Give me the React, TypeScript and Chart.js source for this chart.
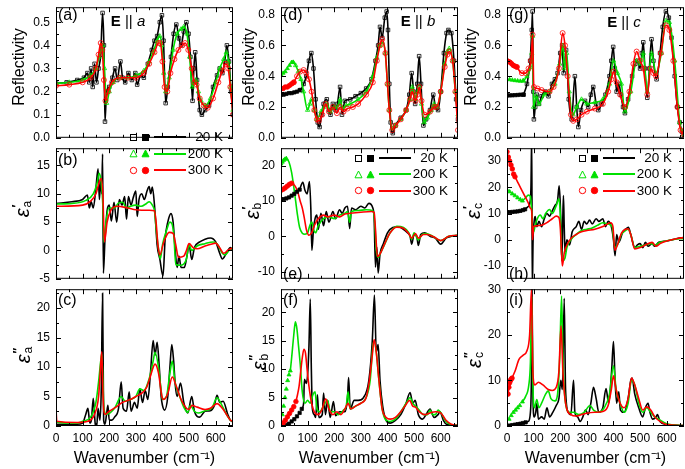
import { useEffect, useRef } from 'react';
import Chart from 'chart.js/auto';

type Pt = [number, number];

const X_MAX = 665;
const X_TICKS = [0, 100, 200, 300, 400, 500, 600];
const LEGEND_LABELS = ['20 K', '200 K', '300 K'];

// (a) reflectivity, E || a
const A_20K: Pt[] = [[0,0.235],[40,0.24],[80,0.25],[105,0.26],[118,0.28],[125,0.24],[132,0.3],[138,0.22],[145,0.32],[152,0.24],[160,0.3],[168,0.36],[175,0.54],[180,0.4],[184,0.07],[190,0.2],[200,0.22],[212,0.26],[222,0.3],[230,0.25],[242,0.33],[250,0.26],[260,0.24],[272,0.28],[285,0.25],[298,0.28],[305,0.23],[318,0.27],[330,0.26],[345,0.32],[360,0.38],[370,0.42],[380,0.44],[390,0.5],[398,0.53],[404,0.42],[412,0.15],[420,0.22],[432,0.35],[442,0.45],[452,0.49],[462,0.43],[470,0.4],[480,0.46],[490,0.5],[498,0.45],[505,0.35],[513,0.16],[518,0.3],[523,0.37],[530,0.25],[540,0.12],[548,0.1],[560,0.12],[575,0.14],[590,0.22],[605,0.27],[615,0.3],[625,0.28],[634,0.33],[642,0.4],[650,0.33],[658,0.2],[665,0.1]];
const A_200K: Pt[] = [[0,0.235],[50,0.24],[100,0.25],[130,0.27],[150,0.3],[162,0.35],[170,0.38],[176,0.4],[182,0.3],[190,0.15],[200,0.2],[215,0.24],[240,0.26],[270,0.26],[300,0.27],[330,0.29],[350,0.33],[365,0.37],[380,0.42],[390,0.44],[397,0.4],[405,0.28],[412,0.2],[425,0.26],[440,0.38],[455,0.45],[470,0.47],[480,0.48],[492,0.45],[502,0.35],[512,0.22],[520,0.24],[526,0.25],[535,0.2],[545,0.16],[560,0.14],[580,0.17],[600,0.24],[615,0.3],[630,0.34],[640,0.37],[648,0.33],[656,0.22],[665,0.12]];
const A_300K: Pt[] = [[0,0.225],[50,0.23],[100,0.24],[130,0.26],[150,0.3],[160,0.36],[168,0.41],[174,0.38],[180,0.25],[186,0.16],[195,0.2],[210,0.24],[240,0.26],[270,0.26],[300,0.26],[330,0.28],[350,0.32],[370,0.37],[385,0.41],[392,0.41],[400,0.33],[408,0.22],[418,0.2],[430,0.28],[445,0.34],[460,0.38],[475,0.4],[485,0.41],[497,0.38],[510,0.3],[520,0.24],[528,0.23],[540,0.17],[555,0.14],[570,0.13],[590,0.17],[610,0.24],[625,0.29],[638,0.32],[647,0.3],[655,0.22],[665,0.1]];

// (b) eps' E || a
const B_20K: Pt[] = [[0,8.3],[60,8.6],[100,9],[118,9.8],[125,7.5],[132,8.6],[140,7.5],[150,11],[158,14.4],[163,9],[168,12.5],[172,10],[175,17],[178,-4],[184,2],[192,7],[200,8],[208,5.2],[218,8.5],[228,5],[238,9],[248,8],[258,9.5],[265,5.5],[272,9.5],[282,8],[290,9.3],[300,10.5],[305,6],[312,9],[322,10],[332,9],[342,10.5],[350,11.3],[356,10],[362,11.2],[370,8],[380,1],[390,-1.5],[402,-4.5],[410,2],[420,5],[432,6.5],[440,5],[448,0],[455,-3],[462,-1],[470,-3],[482,-3],[492,-1],[500,1],[510,-1.6],[520,0.5],[540,1.5],[560,2],[580,2.2],[600,1.5],[615,-0.5],[625,-1.5],[640,-0.5],[655,0.5],[665,0]];
const B_200K: Pt[] = [[0,8.2],[60,8.3],[110,8.8],[140,10],[155,12],[162,13.6],[170,12],[176,8],[180,1.5],[188,5],[198,7.5],[220,7.5],[235,8.4],[250,8.5],[265,7.5],[280,7.8],[300,8],[320,7.8],[340,8.3],[350,8.6],[362,8],[370,7],[378,3],[386,0],[392,-1.5],[400,1],[415,3.5],[428,5],[435,4.8],[443,2.5],[450,-2.5],[470,-2.6],[490,-1.5],[500,1],[510,0],[530,0.8],[560,1.2],[590,1.5],[605,1.2],[625,-0.5],[635,-0.8],[650,0],[665,0.5]];
const B_300K: Pt[] = [[0,7.8],[100,8],[130,8.7],[150,10],[162,12],[170,12.7],[176,10],[182,1.5],[192,5],[205,7],[230,7.8],[270,7.5],[300,7.2],[350,7.1],[370,7],[376,5],[383,1],[390,-0.8],[405,1.5],[425,3.2],[440,3],[450,1],[460,-1.2],[480,-1],[490,0],[500,1.2],[515,0.5],[530,0.3],[560,0.8],[590,1.2],[600,1.3],[615,0.5],[630,-0.5],[645,0],[665,0.5]];

// (c) eps'' E || a
const C_20K: Pt[] = [[0,0.3],[80,0.3],[100,0.5],[112,2],[120,3],[127,0.5],[133,1],[140,4.7],[148,0.2],[153,0],[158,3],[165,1],[170,6],[175,22.5],[179,1],[184,0.3],[190,2],[195,3.5],[200,1],[210,1],[220,1.5],[235,3],[245,7.5],[252,3],[265,2.5],[275,5.8],[282,2.5],[295,4],[305,3],[315,6.3],[325,4],[335,6],[345,4.5],[355,9],[365,14.5],[372,12],[380,14.2],[388,10],[395,5],[400,3.5],[408,2.7],[420,5],[428,10],[435,13.8],[442,11],[448,7],[455,5],[468,7.3],[480,4],[495,2.2],[510,5],[520,2.5],[540,1.5],[560,2.5],[580,2.6],[595,3.5],[605,5.2],[615,4],[628,4.2],[645,2],[655,1],[665,0.7]];
const C_200K: Pt[] = [[0,0.7],[40,0.5],[80,0.5],[100,0.8],[130,1.5],[150,4],[160,7.5],[168,11],[172,12.3],[176,8],[180,3],[190,2],[220,3],[245,5],[260,4.2],[280,4.5],[300,5],[315,6.3],[330,6],[350,8],[365,11],[372,12.5],[385,10],[395,6],[400,4.5],[415,5],[428,9],[437,11],[447,7.5],[465,5],[480,3.2],[495,2.3],[505,3.5],[520,2.5],[535,2.2],[560,2.6],[585,3],[605,4.8],[620,3.8],[640,2],[655,1],[665,0.8]];
const C_300K: Pt[] = [[0,3],[3,0.8],[80,0.6],[120,0.8],[145,2],[160,5],[166,9],[172,12.6],[176,6],[180,2.5],[185,2],[200,2.5],[225,3.2],[250,4],[280,4.5],[300,5],[320,5.5],[340,6.5],[355,8.5],[372,10.5],[385,9],[398,5],[405,4.5],[420,5.5],[437,8.3],[450,7],[470,4.5],[490,3],[500,2.8],[510,3.5],[530,3.2],[560,2.8],[580,3],[605,3.8],[625,3],[640,2],[655,1],[665,0.8]];

// (d) reflectivity, E || b  (LF = low-frequency filled symbols)
const D_20K_LF: Pt[] = [[0,0.28],[10,0.28],[20,0.285],[30,0.29],[40,0.29],[50,0.295],[60,0.3],[70,0.31]];
const D_20K: Pt[] = [[75,0.31],[85,0.35],[95,0.4],[105,0.5],[114,0.55],[122,0.45],[130,0.25],[138,0.1],[145,0.07],[152,0.15],[160,0.22],[172,0.25],[180,0.18],[186,0.15],[195,0.22],[205,0.18],[212,0.22],[222,0.33],[229,0.15],[240,0.24],[260,0.25],[280,0.27],[300,0.29],[320,0.32],[340,0.38],[355,0.5],[365,0.6],[372,0.72],[380,0.65],[390,0.78],[397,0.82],[402,0.7],[407,0.35],[412,0.1],[420,0.03],[430,0.08],[450,0.13],[470,0.18],[482,0.28],[491,0.42],[498,0.3],[504,0.22],[512,0.35],[519,0.53],[526,0.35],[535,0.08],[545,0.12],[560,0.18],[572,0.28],[580,0.2],[590,0.18],[600,0.3],[612,0.55],[622,0.68],[629,0.7],[640,0.68],[650,0.5],[658,0.25],[665,0.12]];
const D_200K_LF: Pt[] = [[0,0.41],[8,0.42],[16,0.43],[24,0.45],[32,0.47],[40,0.49],[46,0.49]];
const D_200K: Pt[] = [[46,0.49],[55,0.47],[65,0.43],[75,0.38],[85,0.3],[100,0.18],[108,0.22],[115,0.25],[125,0.18],[135,0.12],[150,0.17],[162,0.2],[172,0.22],[185,0.17],[200,0.2],[212,0.2],[222,0.25],[232,0.19],[245,0.21],[260,0.22],[290,0.25],[320,0.3],[345,0.4],[360,0.52],[372,0.6],[380,0.62],[392,0.55],[400,0.35],[407,0.18],[418,0.06],[430,0.08],[450,0.12],[470,0.18],[485,0.25],[493,0.33],[505,0.25],[513,0.3],[520,0.33],[528,0.22],[538,0.1],[550,0.13],[565,0.18],[575,0.22],[585,0.2],[600,0.3],[615,0.48],[625,0.56],[632,0.58],[645,0.5],[655,0.3],[665,0.15]];
const D_300K_LF: Pt[] = [[0,0.32],[8,0.32],[16,0.33],[24,0.33],[32,0.34],[40,0.35],[48,0.36]];
const D_300K: Pt[] = [[48,0.36],[60,0.4],[72,0.43],[85,0.44],[95,0.42],[105,0.38],[115,0.3],[125,0.18],[135,0.12],[142,0.11],[155,0.15],[168,0.22],[180,0.17],[195,0.2],[210,0.16],[222,0.2],[235,0.17],[250,0.19],[270,0.2],[290,0.22],[320,0.28],[345,0.36],[360,0.5],[372,0.6],[380,0.64],[392,0.55],[400,0.35],[407,0.18],[418,0.05],[430,0.08],[450,0.12],[470,0.18],[485,0.25],[493,0.3],[505,0.24],[513,0.28],[520,0.33],[528,0.24],[540,0.15],[560,0.17],[575,0.2],[585,0.2],[600,0.3],[615,0.46],[625,0.54],[632,0.56],[645,0.5],[655,0.3],[665,0.05]];

// (e) eps' E || b
const E_20K_LF: Pt[] = [[0,10.4],[10,10.5],[20,10.7],[30,11],[40,11.5],[50,12],[60,12.6],[70,13.2]];
const E_20K: Pt[] = [[70,13.2],[82,15.3],[90,13],[98,12],[107,15.5],[112,8],[116,-4],[122,2],[128,5],[135,6],[140,2],[150,6.5],[160,3],[170,7],[180,4],[195,7],[205,5],[220,7.5],[230,6.5],[240,8],[250,8.5],[258,2.2],[265,8],[280,7.5],[300,8.5],[315,8],[330,9.3],[345,8],[350,5],[355,-8.7],[360,-3],[365,-10.4],[372,-5],[385,-2],[400,1],[420,2.5],[440,2.7],[460,2],[475,1],[485,0],[491,-2.2],[500,0.5],[510,0],[516,-2.6],[525,0.5],[540,1],[560,0],[580,-0.5],[600,-2.2],[620,-0.5],[640,0],[665,0.3]];
const E_200K_LF: Pt[] = [[0,20.5],[5,21],[10,21.5],[15,21.8],[20,22]];
const E_200K: Pt[] = [[20,22],[30,21],[40,18],[48,14],[55,10],[62,6],[70,2.5],[80,0.9],[90,0.6],[100,1],[108,3],[116,4],[122,2],[130,1],[140,3],[160,5],[180,5.5],[200,5],[220,6],[240,6.5],[250,7],[258,4],[265,7],[290,7.3],[320,7.5],[345,7.2],[352,4],[358,-4],[365,-6],[372,-5],[385,-3],[410,1],[435,2.8],[460,2.5],[480,1],[491,-0.8],[500,1],[516,-1],[530,0.5],[545,0.8],[570,0],[600,-1.2],[630,0],[665,0.3]];
const E_300K_LF: Pt[] = [[0,13],[8,13.3],[16,13.7],[24,14.2],[32,14.7],[40,15]];
const E_300K: Pt[] = [[40,15],[50,14.5],[58,13.5],[65,12],[72,10],[80,8],[88,5],[95,2],[105,0.3],[115,1],[125,3],[140,5],[160,6],[175,5.5],[200,6],[220,5.5],[240,6.3],[260,6.5],[300,6.8],[340,7],[350,6.7],[355,2],[362,-5.7],[372,-5],[390,-2],[410,1],[435,2.6],[460,2.3],[480,0.8],[491,-0.5],[505,0.8],[516,-0.5],[535,0.5],[550,0.5],[575,-0.2],[600,-1.2],[630,0],[665,0.3]];

// (f) eps'' E || b
const F_20K_LF: Pt[] = [[0,0],[10,0.05],[20,0.2],[30,0.4],[40,0.8],[50,1.2],[60,1.7],[70,2.3],[78,3]];
const F_20K: Pt[] = [[78,3],[85,4],[88,8.2],[95,7.5],[100,9],[105,14],[110,22.3],[114,10],[118,3],[125,2],[130,1.5],[137,5.5],[142,1.5],[155,2],[160,5.8],[167,2],[175,4.5],[185,1.5],[197,4.3],[205,1.8],[220,2.5],[240,2.5],[250,5],[254,8.5],[260,3],[275,4.5],[290,4.5],[310,5],[330,8],[343,15],[351,23],[358,13],[365,14.3],[372,8],[382,3.5],[395,1],[410,0.5],[430,1],[450,2],[470,4],[485,5.9],[495,4],[504,4.5],[516,2],[532,1.2],[545,2],[560,3],[575,1.5],[590,2],[597,2.5],[610,1],[622,0.3],[665,0.1]];
const F_200K_LF: Pt[] = [[0,0],[5,2],[10,3.5],[15,5],[20,6.5],[25,8],[30,9],[35,9.7]];
const F_200K: Pt[] = [[35,9.7],[40,12],[48,16],[54,18.3],[60,17],[66,14],[72,11],[80,6],[90,4],[100,4.5],[110,4],[120,5.5],[128,6],[135,3],[145,2.5],[165,4],[175,4.5],[185,2.5],[200,2.5],[215,2],[235,2.8],[245,3.5],[252,6],[260,3],[280,3.5],[300,4],[320,5],[335,8],[345,14],[350,15],[358,13],[368,8],[380,3],[395,1],[410,0.8],[430,1.2],[450,2.5],[470,4],[485,5],[495,4],[505,3.5],[516,3],[535,2],[550,2],[560,2.8],[570,2],[580,2],[590,2.8],[605,2],[620,0.8],[640,0.2],[665,0.1]];
const F_300K_LF: Pt[] = [[0,0],[8,0.5],[16,1],[24,1.6],[32,2.2],[40,2.8],[48,3.4],[56,4.3]];
const F_300K: Pt[] = [[56,4.3],[62,5.5],[68,7],[75,10],[80,12],[86,13.5],[92,12.8],[98,10],[105,7],[115,4],[125,2.5],[140,2],[155,3],[168,4.8],[180,3],[195,2],[210,2.5],[225,2],[240,3],[252,4],[262,3],[280,3.5],[300,4],[320,5],[332,8],[342,12],[350,15.2],[358,13],[368,8],[380,3],[395,1.5],[410,1.2],[430,1.5],[450,2.5],[470,3.8],[483,4.5],[495,3.5],[505,3.3],[520,2.5],[540,2],[560,2.3],[580,2.5],[600,2.3],[620,1],[640,0.3],[665,0.1]];

// (g) reflectivity, E || c
const G_20K_LF: Pt[] = [[0,0.275],[10,0.275],[20,0.276],[30,0.277],[40,0.278],[50,0.28],[62,0.28]];
const G_20K: Pt[] = [[62,0.28],[75,0.35],[87,0.5],[93,0.7],[96,0.82],[99,0.3],[101,0.12],[106,0.2],[112,0.28],[120,0.22],[130,0.27],[144,0.3],[156,0.27],[169,0.35],[180,0.38],[190,0.42],[200,0.55],[207,0.6],[213,0.42],[222,0.57],[232,0.25],[243,0.12],[255,0.4],[262,0.2],[268,0.07],[278,0.18],[293,0.24],[305,0.2],[315,0.28],[324,0.33],[335,0.22],[343,0.18],[355,0.22],[370,0.28],[385,0.4],[392,0.5],[399,0.59],[405,0.45],[412,0.3],[420,0.35],[428,0.28],[436,0.2],[443,0.16],[455,0.25],[470,0.4],[482,0.48],[490,0.5],[500,0.45],[507,0.55],[512,0.62],[518,0.45],[527,0.26],[535,0.45],[543,0.64],[550,0.5],[562,0.38],[575,0.55],[585,0.72],[597,0.82],[608,0.78],[618,0.65],[630,0.4],[640,0.2],[649,0.1],[657,0.04],[665,0.02]];
const G_200K_LF: Pt[] = [[0,0.38],[10,0.378],[20,0.375],[30,0.372],[40,0.37],[50,0.368],[60,0.37]];
const G_200K: Pt[] = [[62,0.37],[75,0.4],[88,0.46],[93,0.55],[96,0.66],[100,0.2],[110,0.27],[120,0.22],[140,0.28],[160,0.3],[180,0.35],[198,0.48],[210,0.6],[216,0.45],[224,0.55],[234,0.3],[248,0.15],[262,0.2],[280,0.25],[300,0.22],[330,0.23],[360,0.25],[385,0.35],[400,0.5],[415,0.42],[430,0.35],[443,0.17],[465,0.3],[487,0.5],[500,0.48],[512,0.55],[527,0.3],[543,0.55],[560,0.42],[580,0.55],[597,0.76],[610,0.75],[630,0.5],[649,0.1],[665,0.02]];
const G_300K_LF: Pt[] = [[0,0.5],[6,0.495],[12,0.49],[18,0.48],[24,0.47],[30,0.465],[37,0.46]];
const G_300K: Pt[] = [[37,0.46],[56,0.42],[70,0.42],[81,0.45],[90,0.5],[96,0.67],[101,0.33],[115,0.32],[130,0.31],[160,0.3],[175,0.33],[195,0.45],[209,0.68],[218,0.6],[228,0.4],[240,0.15],[249,0.11],[262,0.12],[280,0.15],[300,0.17],[330,0.19],[360,0.22],[380,0.3],[392,0.38],[400,0.43],[412,0.36],[425,0.28],[443,0.2],[460,0.3],[475,0.48],[487,0.56],[500,0.5],[512,0.45],[527,0.28],[540,0.45],[550,0.42],[560,0.4],[578,0.55],[597,0.73],[610,0.7],[625,0.5],[640,0.2],[652,0.05],[665,0.02]];

// (h) eps' E || c
const H_20K_LF: Pt[] = [[0,10.5],[10,10.5],[20,10.6],[30,10.7],[40,10.8],[50,11],[60,11.3],[68,11.6]];
const H_20K: Pt[] = [[68,11.6],[78,12.5],[86,14],[90,20],[93,40],[95,-20],[98,0],[102,7],[106,8.8],[112,5],[120,7],[130,5],[140,8],[150,10],[160,9],[170,11],[180,13],[190,15],[196,20.6],[200,14],[203,5],[206,-8],[209,5],[212,16.8],[215,5],[218,-4.7],[225,0],[235,-2],[245,3],[260,5],[270,7],[280,4],[290,7],[300,6],[310,7.5],[320,6],[335,8],[345,7],[360,8],[370,5],[380,7],[392,5],[400,0],[406,-6.1],[412,2],[420,-1],[435,3],[445,4],[456,4.7],[465,2],[480,-3],[490,-2],[500,-1.5],[510,-3],[520,-1],[530,-2.5],[545,-1.5],[555,-2.5],[570,-1],[600,-0.5],[640,0.5],[665,0.8]];
const H_200K_LF: Pt[] = [[0,19],[10,18.3],[20,17.5],[30,16.8],[40,16],[50,15.3],[58,14.8]];
const H_200K: Pt[] = [[58,14.8],[70,16],[80,17],[88,16.5],[92,12],[96,5],[100,3],[105,5],[112,7.5],[125,9.4],[135,8],[145,10],[160,11.5],[170,10],[185,13],[195,15.6],[200,10],[205,-5],[210,-8],[218,-7],[225,-3],[240,0],[260,2],[280,3.5],[300,4],[320,4.5],[340,5.5],[360,6.5],[380,6],[395,5],[402,-1],[406,-3],[415,-2],[430,2],[445,3.5],[455,4],[465,2],[480,-3],[500,-2.5],[520,-2],[540,-1.5],[555,-2],[575,-1],[620,0],[665,0.5]];
const H_300K_LF: Pt[] = [[0,33.5],[5,31.5],[10,30],[15,28.5],[20,27],[25,25],[30,24]];
const H_300K: Pt[] = [[30,24],[40,22],[50,20],[65,17],[80,14],[88,12],[93,11],[96,0],[100,5],[110,5.3],[130,5.5],[150,6.5],[170,8],[185,9],[195,8.5],[200,5],[204,-3],[208,-10],[215,-5],[225,-2],[240,0.5],[260,2],[280,3],[300,3.5],[330,4],[360,5],[390,6.5],[398,5],[405,-4],[415,-2],[430,2.5],[445,4],[455,4.2],[465,2],[480,-3.5],[500,-3],[520,-2],[545,-1],[560,-2.5],[575,-1.5],[600,-0.5],[640,0.5],[665,0.8]];

// (i) eps'' E || c
const I_20K_LF: Pt[] = [[0,0],[10,0.1],[20,0.2],[30,0.3],[40,0.4],[50,0.5],[60,0.65],[70,0.8]];
const I_20K: Pt[] = [[70,0.8],[80,1],[88,3],[92,12],[94,30],[97,8],[102,2],[108,3],[112,4.9],[118,1.5],[130,2],[140,1.5],[150,4],[160,2],[172,3],[185,4.5],[195,6],[202,10],[208,8],[215,28],[220,8],[230,3],[240,2.5],[250,10],[255,3],[265,2],[275,1],[285,2],[295,3.5],[305,2.5],[315,5],[325,8.5],[335,6],[345,3],[360,4],[372,8.2],[382,5],[393,12],[400,18.5],[406,10],[412,5],[420,7.5],[426,3.5],[440,3],[455,6],[465,10],[470,10.5],[480,7],[495,4],[510,2],[520,4],[530,5],[537,3],[547,1.5],[560,2],[565,2.5],[575,1],[600,0.3],[665,0.1]];
const I_200K_LF: Pt[] = [[0,0],[8,1.5],[16,2.3],[24,3],[32,3.5],[40,4],[48,4.5],[58,5.3]];
const I_200K: Pt[] = [[58,5.3],[70,6.5],[82,9],[88,14],[93,28.5],[97,10],[103,4],[112,5.8],[120,4],[130,5],[145,7],[155,7.7],[165,6],[180,5.5],[190,7],[198,15],[205,28.5],[210,15],[220,5],[235,3],[250,3],[270,2.5],[290,3],[312,4.5],[325,3.5],[345,3],[365,4],[385,7],[400,13.2],[410,8],[425,5],[440,3],[455,5],[468,10],[480,9],[495,5],[510,3],[525,4],[540,3],[555,2],[570,1.5],[600,0.5],[665,0.1]];
const I_300K_LF: Pt[] = [[4,7],[7,8.5],[10,9.5],[13,10],[16,10.3],[19,10.5]];
const I_300K: Pt[] = [[0,6.5],[19,10.5],[30,12],[45,14.6],[60,15.5],[75,16.5],[85,20],[92,30],[97,12],[105,9],[118,9.6],[135,9],[155,8],[170,7.8],[185,8.5],[195,12],[203,22],[210,12],[220,5],[240,2.5],[260,2.2],[280,2.5],[300,2.8],[330,3],[360,3.2],[380,4.5],[392,8],[400,11],[410,8],[425,5],[440,4],[455,6],[468,10.5],[480,9],[495,6],[510,3.5],[525,4.2],[540,3.5],[555,2],[575,1],[600,0.3],[665,0.1]];

// y tick labels per panel
const R_TICKS_A = [0, 0.1, 0.2, 0.3, 0.4, 0.5];
const R_TICKS_BC = [0, 0.2, 0.4, 0.6, 0.8];
const B_TICKS = [-5, 0, 5, 10, 15];
const C_TICKS = [0, 5, 10, 15, 20];
const E_TICKS = [-10, 0, 10, 20];
const F_TICKS = [0, 5, 10, 15, 20];
const H_TICKS = [-10, 0, 10, 20, 30];
const I_TICKS = [0, 10, 20, 30];

const FONT = '"Liberation Sans", Arial, Helvetica, sans-serif';
const COLORS = ['#000000', '#00e000', '#ff0000'];
const MARKERS = ['rect', 'triangle', 'circle'];
const COL_LEFT = [56, 281, 507];
const ROW_TOP = [2, 143, 284];
const ROW_H = [141, 141, 142];
const PLOT_W = 177;
const AXIS_W = 45;
const PAD = 8;
const X_AXIS_H = 45;

type Curve = { data: Pt[]; temp: number; kind: 'open' | 'line' | 'filled' };
type PanelSpec = {
  col: number;
  row: number;
  yMin: number;
  yMax: number;
  yTicks: number[];
  yMinor: number;
  decimals: number;
  curves: Curve[];
};

const refl = (lf: (Pt[] | null)[], main: Pt[][]): Curve[] => {
  const out: Curve[] = [];
  main.forEach((d, t) => out.push({ data: d, temp: t, kind: 'open' }));
  lf.forEach((d, t) => { if (d) out.push({ data: d, temp: t, kind: 'filled' }); });
  return out;
};
const eps = (lf: (Pt[] | null)[], main: Pt[][]): Curve[] => {
  const out: Curve[] = [];
  main.forEach((d, t) => out.push({ data: d, temp: t, kind: 'line' }));
  lf.forEach((d, t) => { if (d) out.push({ data: d, temp: t, kind: 'filled' }); });
  return out;
};

const PANELS: PanelSpec[] = [
  { col: 0, row: 0, yMin: 0, yMax: 0.565, yTicks: R_TICKS_A, yMinor: 0.05, decimals: 1,
    curves: refl([null, null, null], [A_20K, A_200K, A_300K]) },
  { col: 0, row: 1, yMin: -5, yMax: 18.05, yTicks: B_TICKS, yMinor: 2.5, decimals: 0,
    curves: eps([null, null, null], [B_20K, B_200K, B_300K]) },
  { col: 0, row: 2, yMin: 0, yMax: 23.2, yTicks: C_TICKS, yMinor: 2.5, decimals: 0,
    curves: eps([null, null, null], [C_20K, C_200K, C_300K]) },
  { col: 1, row: 0, yMin: 0, yMax: 0.848, yTicks: R_TICKS_BC, yMinor: 0.1, decimals: 1,
    curves: refl([D_20K_LF, D_200K_LF, D_300K_LF], [D_20K, D_200K, D_300K]) },
  { col: 1, row: 1, yMin: -12, yMax: 24.9, yTicks: E_TICKS, yMinor: 5, decimals: 0,
    curves: eps([E_20K_LF, E_200K_LF, E_300K_LF], [E_20K, E_200K, E_300K]) },
  { col: 1, row: 2, yMin: 0, yMax: 24.05, yTicks: F_TICKS, yMinor: 2.5, decimals: 0,
    curves: eps([F_20K_LF, F_200K_LF, F_300K_LF], [F_20K, F_200K, F_300K]) },
  { col: 2, row: 0, yMin: 0, yMax: 0.848, yTicks: R_TICKS_BC, yMinor: 0.1, decimals: 1,
    curves: refl([G_20K_LF, G_200K_LF, G_300K_LF], [G_20K, G_200K, G_300K]) },
  { col: 2, row: 1, yMin: -14.9, yMax: 34.9, yTicks: H_TICKS, yMinor: 5, decimals: 0,
    curves: eps([H_20K_LF, H_200K_LF, H_300K_LF], [H_20K, H_200K, H_300K]) },
  { col: 2, row: 2, yMin: 0, yMax: 30, yTicks: I_TICKS, yMinor: 5, decimals: 0,
    curves: eps([I_20K_LF, I_200K_LF, I_300K_LF], [I_20K, I_200K, I_300K]) },
];

// frame around the plot area with inward major/minor ticks on all four sides
const frameTicks = {
  id: 'frameTicks',
  afterDatasetsDraw(chart: any, _args: any, opts: any) {
    const { ctx, chartArea: a } = chart;
    const xs = chart.scales.x;
    const ys = chart.scales.y;
    ctx.save();
    ctx.strokeStyle = '#000';
    ctx.lineWidth = 1;
    ctx.strokeRect(a.left + 0.5, a.top + 0.5, a.right - a.left - 1, a.bottom - a.top - 1);
    ctx.beginPath();
    for (let v = 0; v <= X_MAX; v += 50) {
      const px = Math.round(xs.getPixelForValue(v)) + 0.5;
      const len = v % 100 === 0 ? 5 : 3;
      ctx.moveTo(px, a.bottom);
      ctx.lineTo(px, a.bottom - len);
      ctx.moveTo(px, a.top);
      ctx.lineTo(px, a.top + len);
    }
    const step = opts.yMinor;
    const start = Math.ceil(ys.min / step - 1e-9) * step;
    for (let i = 0; ; i++) {
      const v = start + i * step;
      if (v > ys.max + 1e-9) break;
      const major = opts.yTicks.some((t: number) => Math.abs(t - v) < 1e-6);
      const len = major ? 5 : 3;
      const py = Math.round(ys.getPixelForValue(v)) + 0.5;
      ctx.moveTo(a.left, py);
      ctx.lineTo(a.left + len, py);
      ctx.moveTo(a.right, py);
      ctx.lineTo(a.right - len, py);
    }
    ctx.stroke();
    ctx.restore();
  },
};

function Panel({ spec }: { spec: PanelSpec }) {
  const ref = useRef<HTMLCanvasElement>(null);
  const bottomRow = spec.row === 2;
  const plotH = ROW_H[spec.row];
  const w = AXIS_W + PLOT_W + PAD;
  const h = PAD + plotH + (bottomRow ? X_AXIS_H : PAD);

  useEffect(() => {
    if (!ref.current) return;
    const datasets = spec.curves
      .map((c) => {
        const color = COLORS[c.temp];
        const fill = c.kind === 'filled' ? color : 'rgba(255,255,255,0)';
        return {
          data: c.data.map(([x, y]) => ({ x, y })),
          showLine: c.kind !== 'filled',
          borderColor: color,
          backgroundColor: fill,
          borderWidth: 1.6,
          pointStyle: MARKERS[c.temp],
          pointRadius: c.kind === 'line' ? 0 : c.kind === 'filled' ? 2.3 : 2.5,
          pointBorderWidth: 0.8,
          pointBackgroundColor: fill,
          pointBorderColor: color,
          cubicInterpolationMode: 'monotone',
        };
      })
      .reverse();

    const chart = new Chart(ref.current, {
      type: 'scatter',
      data: { datasets } as any,
      options: {
        animation: false,
        responsive: false,
        events: [],
        layout: { padding: { left: 0, top: PAD, right: PAD, bottom: bottomRow ? 0 : PAD } },
        plugins: {
          legend: { display: false },
          tooltip: { enabled: false },
          frameTicks: { yMinor: spec.yMinor, yTicks: spec.yTicks },
        } as any,
        scales: {
          x: {
            type: 'linear',
            min: 0,
            max: X_MAX,
            display: bottomRow,
            grid: { display: false, drawTicks: false },
            border: { display: false },
            ticks: { font: { family: FONT, size: 12 }, color: '#000', padding: 5, maxRotation: 0 },
            afterBuildTicks: (s: any) => {
              s.ticks = X_TICKS.map((v) => ({ value: v }));
            },
            afterFit: (s: any) => {
              s.height = bottomRow ? X_AXIS_H : 0;
            },
            title: {
              display: true,
              text: 'Wavenumber (cm⁻¹)',
              font: { family: FONT, size: 16 },
              color: '#000',
              padding: { top: 0, bottom: 3 },
            },
          },
          y: {
            type: 'linear',
            min: spec.yMin,
            max: spec.yMax,
            grid: { display: false, drawTicks: false },
            border: { display: false },
            ticks: {
              font: { family: FONT, size: 12 },
              color: '#000',
              padding: 6,
              callback: (v: any) => Number(v).toFixed(spec.decimals),
            },
            afterBuildTicks: (s: any) => {
              s.ticks = spec.yTicks.map((v) => ({ value: v }));
            },
            afterFit: (s: any) => {
              s.width = AXIS_W;
            },
          },
        },
      } as any,
      plugins: [frameTicks as any],
    });
    return () => chart.destroy();
  }, [spec]);

  return (
    <canvas
      ref={ref}
      width={w}
      height={h}
      style={{ position: 'absolute', left: COL_LEFT[spec.col] - AXIS_W, top: ROW_TOP[spec.row] - PAD, width: w, height: h }}
    />
  );
}

function Marker({ shape, color, filled }: { shape: number; color: string; filled: boolean }) {
  const fill = filled ? color : 'none';
  return (
    <svg width={9} height={9} style={{ display: 'block' }}>
      {shape === 0 && <rect x={1.5} y={1.5} width={6} height={6} fill={fill} stroke={color} strokeWidth={1} />}
      {shape === 1 && <polygon points="4.5,1 8,7.8 1,7.8" fill={fill} stroke={color} strokeWidth={1} />}
      {shape === 2 && <circle cx={4.5} cy={4.5} r={3.2} fill={fill} stroke={color} strokeWidth={1} />}
    </svg>
  );
}

const LEGENDS = [
  { x: 133, ys: [137, 153.5, 170] },
  { x: 358, ys: [158, 174, 190.5] },
  { x: 582, ys: [158, 174, 190.5] },
];

function Legend({ x, ys }: { x: number; ys: number[] }) {
  return (
    <>
      {LEGEND_LABELS.map((label, t) => (
        <div key={label} style={{ position: 'absolute', left: 0, top: ys[t], height: 0 }}>
          <div style={{ position: 'absolute', left: x - 4.5, top: -4.5 }}>
            <Marker shape={t} color={COLORS[t]} filled={false} />
          </div>
          <div style={{ position: 'absolute', left: x + 12 - 4.5, top: -4.5 }}>
            <Marker shape={t} color={COLORS[t]} filled />
          </div>
          <div style={{ position: 'absolute', left: x + 21, top: -1, width: 32, height: 2, background: COLORS[t] }} />
          <div
            style={{
              position: 'absolute',
              left: x + 40,
              width: 50,
              top: -8,
              textAlign: 'right',
              fontSize: 13.5,
              lineHeight: '16px',
              fontFamily: FONT,
              color: '#000',
            }}
          >
            {label}
          </div>
        </div>
      ))}
    </>
  );
}

function Rotated({ cx, cy, children }: { cx: number; cy: number; children: any }) {
  return (
    <div
      style={{
        position: 'absolute',
        left: cx,
        top: cy,
        transform: 'translate(-50%, -50%) rotate(-90deg)',
        whiteSpace: 'nowrap',
        fontFamily: FONT,
        display: 'flex',
        alignItems: 'center',
        color: '#000',
      }}
    >
      {children}
    </div>
  );
}

function Eps({ primes, sub }: { primes: string; sub: string }) {
  return (
    <>
      <span style={{ fontStyle: 'italic', fontSize: 20, lineHeight: '20px' }}>ε</span>
      <span style={{ display: 'flex', flexDirection: 'column', fontSize: 12, lineHeight: '10px', marginLeft: 1 }}>
        <span style={{ fontWeight: 'bold' }}>{primes}</span>
        <span>{sub}</span>
      </span>
    </>
  );
}

const PANEL_LETTERS: [string, number, number][] = [
  ['(a)', 58, 15], ['(b)', 58, 160], ['(c)', 58, 300],
  ['(d)', 283, 15], ['(e)', 283, 274], ['(f)', 283, 300],
  ['(g)', 509, 15], ['(h)', 509, 274], ['(i)', 509, 300],
];

const E_LABELS: [string, number, number][] = [
  ['a', 128, 21],
  ['b', 418, 21],
  ['c', 624, 22],
];

export default function App() {
  return (
    <div
      style={{
        position: 'fixed',
        left: 0,
        top: 0,
        width: 685,
        height: 469,
        overflow: 'hidden',
        background: '#fff',
        fontFamily: FONT,
      }}
    >
      {PANELS.map((p, i) => (
        <Panel key={i} spec={p} />
      ))}

      <Rotated cx={18.5} cy={67}><span style={{ fontSize: 16 }}>Reflectivity</span></Rotated>
      <Rotated cx={249} cy={67}><span style={{ fontSize: 16 }}>Reflectivity</span></Rotated>
      <Rotated cx={471} cy={67}><span style={{ fontSize: 16 }}>Reflectivity</span></Rotated>
      <Rotated cx={22} cy={209}><Eps primes="′" sub="a" /></Rotated>
      <Rotated cx={23} cy={355}><Eps primes="″" sub="a" /></Rotated>
      <Rotated cx={252} cy={211}><Eps primes="′" sub="b" /></Rotated>
      <Rotated cx={259} cy={362}><Eps primes="″" sub="b" /></Rotated>
      <Rotated cx={473} cy={211}><Eps primes="′" sub="c" /></Rotated>
      <Rotated cx={474} cy={360}><Eps primes="″" sub="c" /></Rotated>

      {PANEL_LETTERS.map(([t, x, y]) => (
        <div
          key={t}
          style={{ position: 'absolute', left: x, top: y, transform: 'translateY(-50%)', fontSize: 16, lineHeight: '18px', color: '#000' }}
        >
          {t}
        </div>
      ))}

      {E_LABELS.map(([axis, x, y]) => (
        <div
          key={axis}
          style={{
            position: 'absolute',
            left: x,
            top: y,
            transform: 'translate(-50%, -50%)',
            fontSize: 15,
            lineHeight: '18px',
            whiteSpace: 'nowrap',
            color: '#000',
          }}
        >
          <b>E</b> || <i>{axis}</i>
        </div>
      ))}

      {LEGENDS.map((l, i) => (
        <Legend key={i} x={l.x} ys={l.ys} />
      ))}
    </div>
  );
}
